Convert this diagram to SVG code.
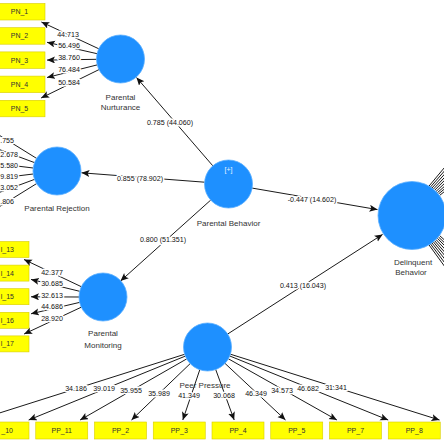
<svg xmlns="http://www.w3.org/2000/svg" width="444" height="444" viewBox="0 0 444 444">
<style>
.bg{fill:#ffffff}
.c{fill:#1E90FF;stroke:#5AAEFF;stroke-width:0.8}
.b{fill:#FFFF00;stroke:#D8CC00;stroke-width:0.6}
.bt{font-family:"Liberation Sans",Arial,sans-serif;font-size:7px;fill:#333;text-anchor:middle}
.be{text-anchor:end}
.nt{font-family:"Liberation Sans",Arial,sans-serif;font-size:8px;fill:#333;text-anchor:middle}
.l{stroke:#1a1a1a;stroke-width:1;fill:none}
.a{marker-end:url(#ah)}
.n{font-family:"Liberation Sans",Arial,sans-serif;font-size:7.1px;fill:#111;text-anchor:middle;stroke:#fff;stroke-width:3;stroke-linejoin:round;paint-order:stroke}
.ne{text-anchor:end}
.pl{font-family:"Liberation Sans",Arial,sans-serif;font-size:7px;fill:#E8F4FF;text-anchor:middle}
</style>
<defs>
<marker id="ah" markerUnits="userSpaceOnUse" markerWidth="9" markerHeight="8" refX="8" refY="3.5" orient="auto">
<path d="M0,0 L8,3.5 L0,7 L1.8,3.5 z" fill="#111"/>
</marker>
</defs>
<rect class="bg" x="0" y="0" width="444" height="444"/>

<g id="connectors">
  <line class="l a" x1="212.8" y1="165.8" x2="136.5" y2="77.5"/>
  <line class="l a" x1="204.6" y1="182.2" x2="81.5" y2="172.8"/>
  <line class="l a" x1="210.7" y1="200.1" x2="120.5" y2="281"/>
  <line class="l a" x1="252.2" y1="188.1" x2="377.5" y2="209.6"/>
  <line class="l a" x1="227.7" y1="334" x2="382.6" y2="234.4"/>

  <line class="l a" x1="98.8" y1="48.8" x2="41.4" y2="22"/>
  <line class="l a" x1="97.1" y1="53.7" x2="47" y2="42.3"/>
  <line class="l a" x1="96.5" y1="59.3" x2="47" y2="60.1"/>
  <line class="l a" x1="97.2" y1="64.9" x2="47" y2="77.5"/>
  <line class="l a" x1="99" y1="69.6" x2="41.1" y2="98"/>

  <line class="l" x1="36.6" y1="158.4" x2="-10" y2="129.5"/>
  <line class="l" x1="34.5" y1="162.6" x2="-10" y2="146.1"/>
  <line class="l" x1="33.2" y1="168" x2="-10" y2="162.7"/>
  <line class="l" x1="33.2" y1="174" x2="-10" y2="179.3"/>
  <line class="l" x1="34.5" y1="179.4" x2="-10" y2="195.9"/>
  <line class="l" x1="36.6" y1="183.6" x2="-10" y2="212.5"/>

  <line class="l a" x1="81.3" y1="286.7" x2="24" y2="259.5"/>
  <line class="l a" x1="79.7" y1="291.3" x2="31" y2="279.4"/>
  <line class="l a" x1="79" y1="297" x2="31" y2="296.8"/>
  <line class="l a" x1="79.6" y1="302.4" x2="31" y2="313.8"/>
  <line class="l a" x1="81.3" y1="307.2" x2="24.1" y2="334"/>

  <line class="l" x1="184.6" y1="354.3" x2="-10" y2="416"/>
  <line class="l a" x1="185.3" y1="356.1" x2="28.7" y2="420"/>
  <line class="l a" x1="186.7" y1="358.9" x2="80.1" y2="420"/>
  <line class="l a" x1="190.2" y1="363.6" x2="131.5" y2="420"/>
  <line class="l a" x1="199.8" y1="369.7" x2="182.8" y2="420"/>
  <line class="l a" x1="215.7" y1="369.5" x2="234.2" y2="420"/>
  <line class="l a" x1="225" y1="363.4" x2="285.5" y2="420"/>
  <line class="l a" x1="228.4" y1="358.8" x2="336.9" y2="420"/>
  <line class="l a" x1="229.8" y1="356" x2="388.2" y2="420"/>
  <line class="l a" x1="230.4" y1="354.2" x2="439.5" y2="420"/>

  <line class="l" x1="429" y1="186.1" x2="452" y2="158.5"/>
  <line class="l" x1="430.5" y1="187" x2="452" y2="162.3"/>
  <line class="l" x1="432" y1="188" x2="452" y2="166"/>
  <line class="l" x1="433.4" y1="189.1" x2="452" y2="169.6"/>
  <line class="l" x1="434.7" y1="190.2" x2="452" y2="172.9"/>
  <line class="l" x1="436" y1="191.5" x2="452" y2="176.3"/>
  <line class="l" x1="437.3" y1="192.8" x2="452" y2="179.6"/>
  <line class="l" x1="438.4" y1="194.1" x2="452" y2="182.5"/>
  <line class="l" x1="439.5" y1="195.5" x2="452" y2="185.5"/>
  <line class="l" x1="439.5" y1="235.5" x2="452" y2="246.8"/>
  <line class="l" x1="438.4" y1="236.9" x2="452" y2="250"/>
  <line class="l" x1="437.3" y1="238.2" x2="452" y2="253.2"/>
  <line class="l" x1="436" y1="239.5" x2="452" y2="256.8"/>
  <line class="l" x1="434.7" y1="240.8" x2="452" y2="260.5"/>
  <line class="l" x1="433.4" y1="241.9" x2="452" y2="264.2"/>
  <line class="l" x1="432" y1="243" x2="452" y2="268.2"/>
  <line class="l" x1="430.5" y1="244" x2="452" y2="272.4"/>
  <line class="l" x1="429" y1="244.9" x2="452" y2="276.6"/>

  <text class="n" x="170" y="125.4">0.785 (44.060)</text>
  <text class="n" x="140" y="180.7">0.855 (78.902)</text>
  <text class="n" x="163" y="241.6">0.800 (51.351)</text>
  <text class="n" x="312" y="202.4">-0.447 (14.602)</text>
  <text class="n" x="303" y="287.6">0.413 (16.043)</text>

  <text class="n" x="68" y="36.6">44.713</text>
  <text class="n" x="69" y="47.6">56.496</text>
  <text class="n" x="69" y="59.6">38.760</text>
  <text class="n" x="69" y="71.6">76.484</text>
  <text class="n" x="69" y="84.6">50.584</text>

  <text class="n ne" x="14" y="142.6">.755</text>
  <text class="n ne" x="18" y="157.1">2.678</text>
  <text class="n ne" x="18" y="167.6">5.580</text>
  <text class="n ne" x="18" y="178.6">9.819</text>
  <text class="n ne" x="18" y="189.6">3.052</text>
  <text class="n ne" x="14" y="204.1">.806</text>

  <text class="n" x="52" y="274.6">42.377</text>
  <text class="n" x="52" y="285.6">30.685</text>
  <text class="n" x="52" y="297.6">32.613</text>
  <text class="n" x="52" y="308.6">44.686</text>
  <text class="n" x="52" y="320.6">28.920</text>

  <text class="n" x="76" y="390.6">34.186</text>
  <text class="n" x="104" y="390.6">39.019</text>
  <text class="n" x="131" y="392.6">35.955</text>
  <text class="n" x="159" y="395.6">35.989</text>
  <text class="n" x="189" y="397.6">41.349</text>
  <text class="n" x="224" y="397.6">30.068</text>
  <text class="n" x="256" y="395.6">46.349</text>
  <text class="n" x="282" y="392.6">34.573</text>
  <text class="n" x="308" y="390.6">46.682</text>
  <text class="n" x="336" y="389.6">31.341</text>
</g>

<g id="parental-nurturance">
  <circle class="c" cx="120.5" cy="59" r="24"/>
  <text class="nt" x="120.5" y="99.5">Parental</text>
  <text class="nt" x="120.5" y="109.5">Nurturance</text>
</g>
<g id="parental-rejection">
  <circle class="c" cx="57" cy="171" r="24"/>
  <text class="nt" x="57" y="211">Parental Rejection</text>
</g>
<g id="parental-behavior">
  <circle class="c" cx="228.5" cy="184" r="24"/>
  <text class="pl" x="228.5" y="172">[+]</text>
  <text class="nt" x="228.5" y="225.5">Parental Behavior</text>
</g>
<g id="parental-monitoring">
  <circle class="c" cx="103" cy="297" r="24"/>
  <text class="nt" x="103" y="336">Parental</text>
  <text class="nt" x="103" y="348">Monitoring</text>
</g>
<g id="peer-pressure">
  <circle class="c" cx="207.5" cy="347" r="24"/>
  <text class="nt" x="205" y="388">Peer Pressure</text>
</g>
<g id="delinquent-behavior">
  <circle class="c" cx="412" cy="215.5" r="34"/>
  <text class="nt" x="413" y="264.5">Delinquent</text>
  <text class="nt" x="411" y="274.5">Behavior</text>
</g>

<g id="pn1"><rect class="b" x="-7" y="3.5" width="52" height="16.5"/><text class="bt" x="19.5" y="14.2">PN_1</text></g>
<g id="pn2"><rect class="b" x="-7" y="27.7" width="52" height="16.5"/><text class="bt" x="19.5" y="38.4">PN_2</text></g>
<g id="pn3"><rect class="b" x="-7" y="51.9" width="52" height="16.5"/><text class="bt" x="19.5" y="62.6">PN_3</text></g>
<g id="pn4"><rect class="b" x="-7" y="76.1" width="52" height="16.5"/><text class="bt" x="19.5" y="86.8">PN_4</text></g>
<g id="pn5"><rect class="b" x="-7" y="100.3" width="52" height="16.5"/><text class="bt" x="19.5" y="111">PN_5</text></g>

<g id="pm13"><rect class="b" x="-23" y="241.5" width="52" height="16"/><text class="bt be" x="14" y="252">l_13</text></g>
<g id="pm14"><rect class="b" x="-23" y="265.1" width="52" height="16"/><text class="bt be" x="14" y="275.6">l_14</text></g>
<g id="pm15"><rect class="b" x="-23" y="288.7" width="52" height="16"/><text class="bt be" x="14" y="299.2">l_15</text></g>
<g id="pm16"><rect class="b" x="-23" y="312.3" width="52" height="16"/><text class="bt be" x="14" y="322.8">l_16</text></g>
<g id="pm17"><rect class="b" x="-23" y="335.9" width="52" height="16"/><text class="bt be" x="14" y="346.4">l_17</text></g>

<g id="pp10"><rect class="b" x="-23" y="422" width="52" height="17"/><text class="bt be" x="13" y="433">_10</text></g>
<g id="pp11"><rect class="b" x="35.75" y="422" width="52" height="17"/><text class="bt" x="61.75" y="433">PP_11</text></g>
<g id="pp2"><rect class="b" x="94.5" y="422" width="52" height="17"/><text class="bt" x="120.5" y="433">PP_2</text></g>
<g id="pp3"><rect class="b" x="153.25" y="422" width="52" height="17"/><text class="bt" x="179.25" y="433">PP_3</text></g>
<g id="pp4"><rect class="b" x="212" y="422" width="52" height="17"/><text class="bt" x="238" y="433">PP_4</text></g>
<g id="pp5"><rect class="b" x="270.75" y="422" width="52" height="17"/><text class="bt" x="296.75" y="433">PP_5</text></g>
<g id="pp7"><rect class="b" x="329.5" y="422" width="52" height="17"/><text class="bt" x="355.5" y="433">PP_7</text></g>
<g id="pp8"><rect class="b" x="388.25" y="422" width="52" height="17"/><text class="bt" x="414.25" y="433">PP_8</text></g>
</svg>
